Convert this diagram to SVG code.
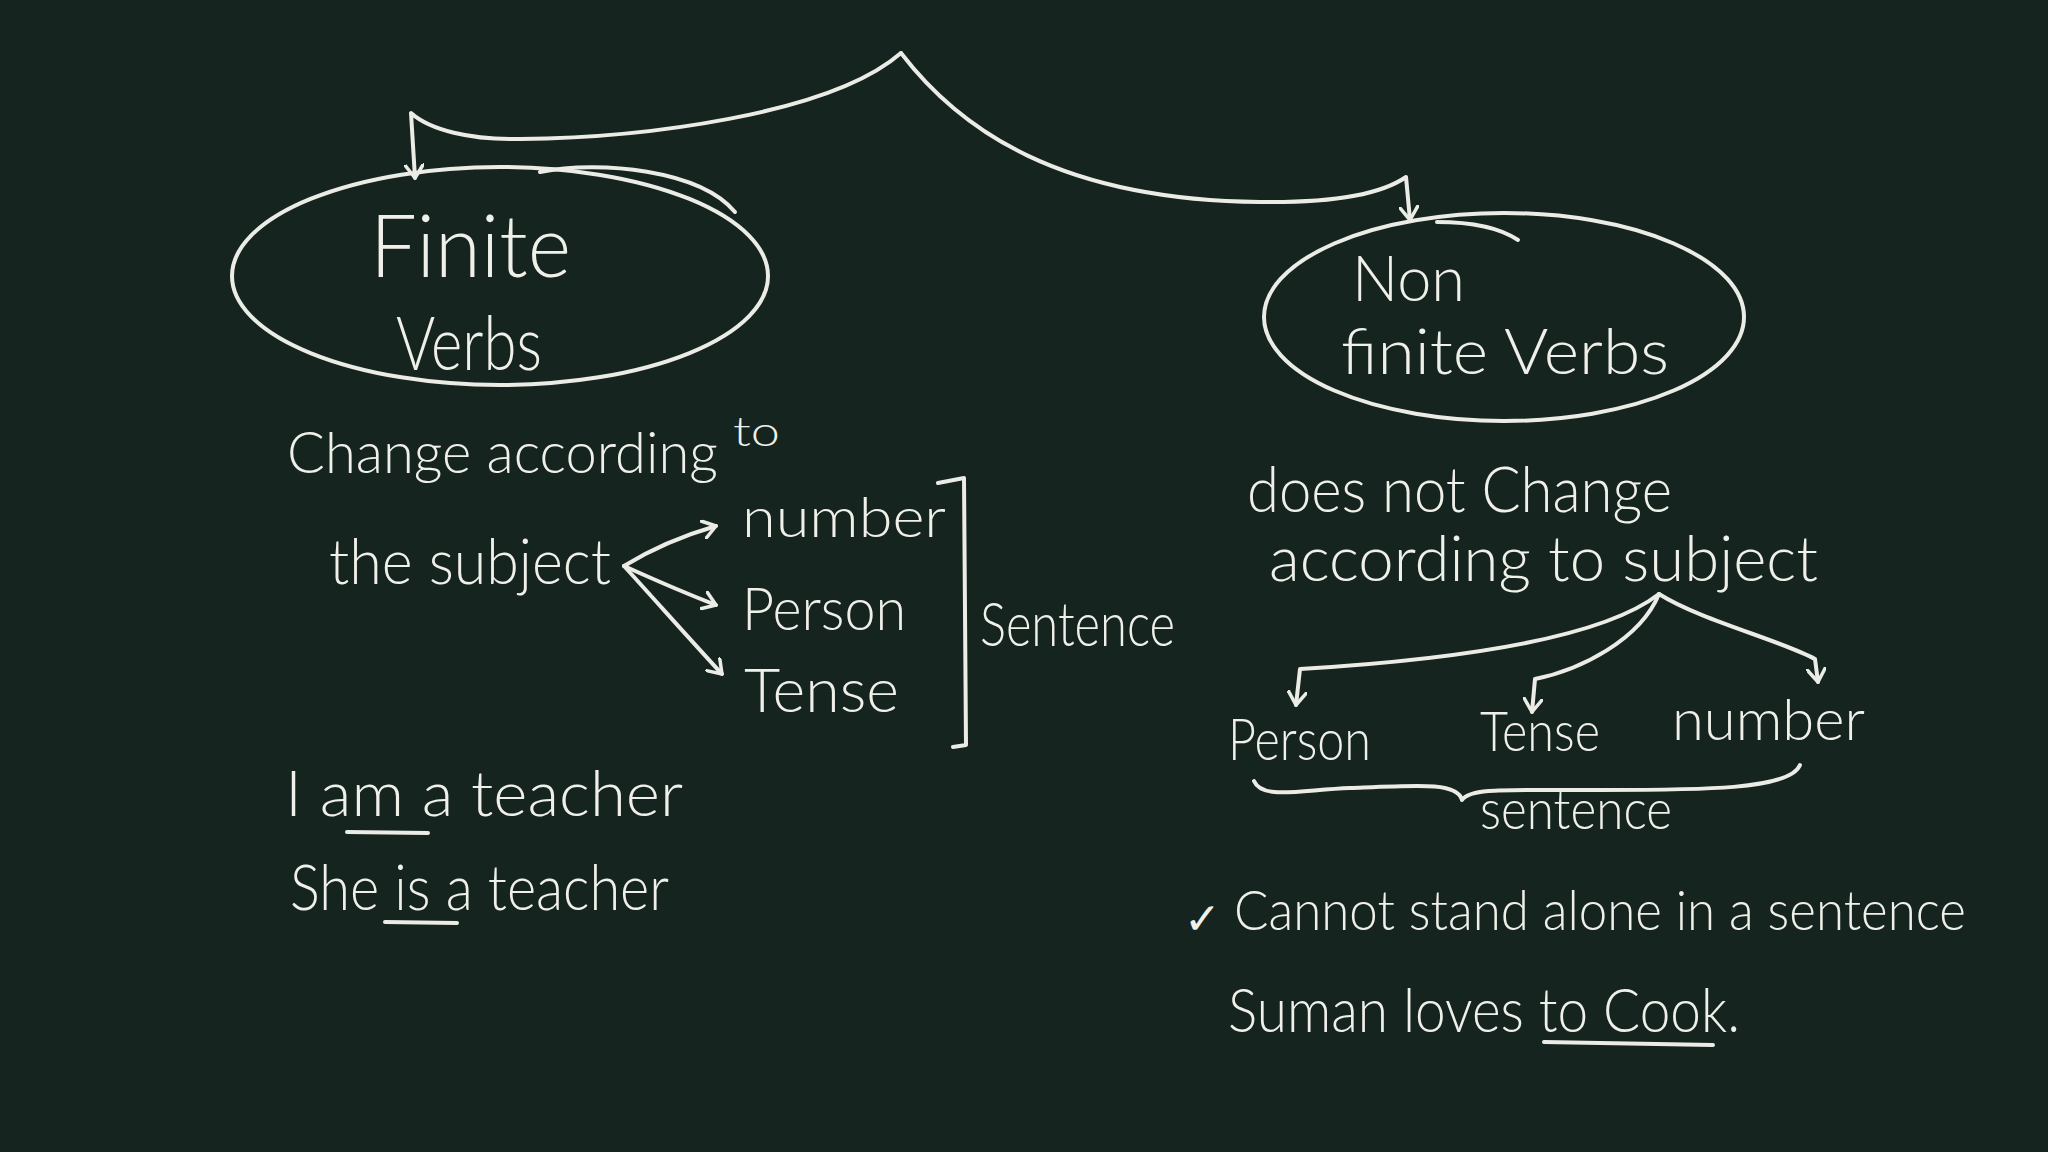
<svg xmlns="http://www.w3.org/2000/svg" width="2048" height="1152" viewBox="0 0 2048 1152">
<defs>
<marker id="v" viewBox="-14 -10 16 20" markerWidth="16" markerHeight="20" refX="0" refY="0" orient="auto" markerUnits="userSpaceOnUse">
<path d="M-13,-9 L0,0 L-13,9" fill="none" stroke="#ecece6" stroke-width="3.5" stroke-linecap="round" stroke-linejoin="round"/>
</marker>
<style>
.t{font-family:"Lato","Open Sans","Liberation Sans",sans-serif;font-weight:300;fill:#f0f0ea}
.s{fill:none;stroke:#ecece6;stroke-width:4;stroke-linecap:round;stroke-linejoin:round}
.a{marker-end:url(#v)}
</style>
</defs>
<rect width="2048" height="1152" fill="#15241f"/>
<g id="connectors">
<path class="s a" d="M901,53 C830,115 640,138 520,139 C470,140 430,130 411,113 L415,178"/>
<path class="s a" d="M901,53 C960,130 1060,200 1260,202 C1330,203 1380,195 1406,177 L1410,220"/>
<path class="s a" d="M624,566 C650,550 685,535 716,526"/>
<path class="s a" d="M624,566 C655,580 690,595 716,605"/>
<path class="s a" d="M624,566 C655,600 695,645 722,674"/>
<path class="s" d="M938,483 L964,478 L966,745 L953,747"/>
<path class="s a" d="M1659,594 C1600,640 1450,660 1300,669 L1296,705"/>
<path class="s a" d="M1659,594 C1640,640 1580,670 1535,679 L1532,712"/>
<path class="s a" d="M1659,594 C1700,620 1780,640 1815,659 L1818,682"/>
<path class="s" d="M1254,781 C1262,800 1300,790 1350,788 C1420,785 1458,782 1462,800 C1470,788 1500,790 1600,790 C1700,790 1790,790 1800,765"/>
</g>
<g id="finite">
<ellipse class="s" cx="500" cy="276" rx="268" ry="109"/>
<path class="s" d="M540,172 C600,160 700,170 735,212"/>
<text class="t" x="370" y="277" font-size="86" textLength="201" lengthAdjust="spacingAndGlyphs">Finite</text>
<text class="t" x="396" y="370" font-size="74" textLength="146" lengthAdjust="spacingAndGlyphs">Verbs</text>
</g>
<g id="nonfinite">
<ellipse class="s" cx="1504" cy="317" rx="240" ry="104"/>
<path class="s" d="M1437,222 C1470,222 1500,228 1518,240"/>
<text class="t" x="1352" y="301" font-size="64" textLength="113" lengthAdjust="spacingAndGlyphs">Non</text>
<text class="t" x="1341" y="374" font-size="64" textLength="328" lengthAdjust="spacingAndGlyphs">finite Verbs</text>
</g>
<g id="finite-notes">
<text class="t" x="287" y="473" font-size="58" textLength="431" lengthAdjust="spacingAndGlyphs">Change according</text>
<text class="t" x="733" y="446" font-size="42" textLength="47" lengthAdjust="spacingAndGlyphs">to</text>
<text class="t" x="329" y="584" font-size="64" textLength="282" lengthAdjust="spacingAndGlyphs">the subject</text>
<text class="t" x="742" y="537" font-size="56" textLength="204" lengthAdjust="spacingAndGlyphs">number</text>
<text class="t" x="742" y="630" font-size="60" textLength="164" lengthAdjust="spacingAndGlyphs">Person</text>
<text class="t" x="744" y="712" font-size="62" textLength="155" lengthAdjust="spacingAndGlyphs">Tense</text>
<text class="t" x="980" y="646" font-size="62" textLength="195" lengthAdjust="spacingAndGlyphs">Sentence</text>
<text class="t" x="285" y="816" font-size="64" textLength="398" lengthAdjust="spacingAndGlyphs">I am a teacher</text>
<path class="s" d="M347,832 L428,833"/>
<text class="t" x="290" y="910" font-size="64" textLength="379" lengthAdjust="spacingAndGlyphs">She is a teacher</text>
<path class="s" d="M385,922 L457,923"/>
</g>
<g id="nonfinite-notes">
<text class="t" x="1247" y="512" font-size="64" textLength="425" lengthAdjust="spacingAndGlyphs">does not Change</text>
<text class="t" x="1269" y="581" font-size="64" textLength="549" lengthAdjust="spacingAndGlyphs">according to subject</text>
<text class="t" x="1228" y="760" font-size="58" textLength="143" lengthAdjust="spacingAndGlyphs">Person</text>
<text class="t" x="1480" y="751" font-size="56" textLength="120" lengthAdjust="spacingAndGlyphs">Tense</text>
<text class="t" x="1672" y="740" font-size="58" textLength="193" lengthAdjust="spacingAndGlyphs">number</text>
<text class="t" x="1480" y="829" font-size="56" textLength="192" lengthAdjust="spacingAndGlyphs">sentence</text>
<text class="t" x="1184" y="934" font-size="44" font-family="DejaVu Sans, sans-serif">✓</text>
<text class="t" x="1234" y="930" font-size="56" textLength="732" lengthAdjust="spacingAndGlyphs">Cannot stand alone in a sentence</text>
<text class="t" x="1228" y="1032" font-size="62" textLength="512" lengthAdjust="spacingAndGlyphs">Suman loves to Cook.</text>
<path class="s" d="M1544,1042 L1713,1045"/>
</g>
</svg>
